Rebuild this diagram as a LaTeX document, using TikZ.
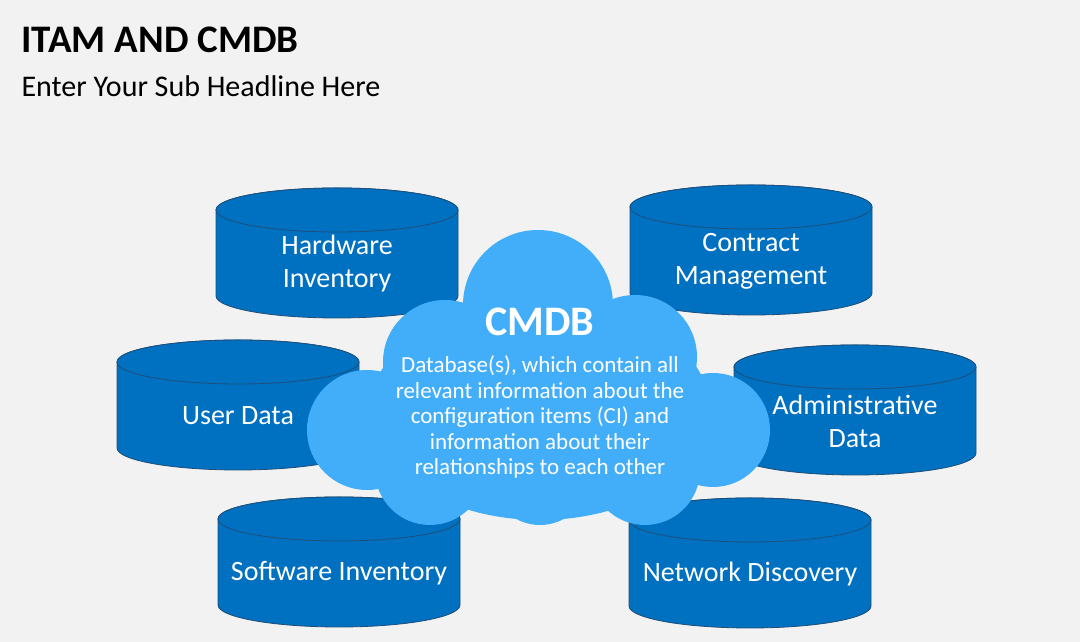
\documentclass[tikz,border=0pt]{standalone}
\usepackage{fontspec}
\setmainfont{Carlito}
\usepackage{tikz}

\definecolor{dbfill}{HTML}{0070C0}
\definecolor{dbline}{HTML}{1F4E79}
\definecolor{cloudblue}{HTML}{42AEF9}
\definecolor{bggray}{HTML}{F2F2F2}

\tikzset{
  dbbody/.style = {fill=dbfill, draw=dbline, line width=0.8pt},
  dblabel/.style = {text=white, font=\fontsize{28}{33}\selectfont, align=center},
  puff/.style = {fill=cloudblue, draw=none}
}

% cylinder: #1 name, #2 centre x of top, #3 centre y of top, #4 label
\newcommand{\dbcyl}[4]{
  \draw[dbbody] (#2-121,#3) -- (#2-121,#3-86) arc[start angle=180, end angle=360, x radius=121, y radius=22]
     -- (#2+121,#3) arc[start angle=0, end angle=180, x radius=121, y radius=22] -- cycle;
  \draw[dbbody] (#2,#3) ellipse[x radius=121, y radius=22];
  \node[dblabel] (#1) at (#2,#3-54) {#4};
}

\begin{document}
\begin{tikzpicture}[x=1pt, y=1pt]
		\fill[bggray] (0,0) rectangle (1080,642);
		\useasboundingbox (0,0) rectangle (1080,642);
		\node[anchor=west, font=\fontsize{39}{46}\selectfont\bfseries] (title) at (18,602) {ITAM AND CMDB};
		\node[anchor=west, font=\fontsize{30}{36}\selectfont] (subtitle) at (18,556) {Enter Your Sub Headline Here};
		% the six data stores
		\dbcyl{hw}{337}{432}{Hardware\\Inventory}
		\dbcyl{cm}{751}{435}{Contract\\Management}
		\dbcyl{ud}{238}{280}{User Data}
		\dbcyl{ad}{855}{275}{Administrative\\Data}
		\dbcyl{sw}{339}{123}{Software Inventory}
		\dbcyl{nd}{750}{122}{Network Discovery}
		% the cloud
		\fill[puff] (538,337) circle (75);
		\fill[puff] (445,280) circle (62);
		\fill[puff] (635,285) circle (62);
		\fill[puff] (367,212) circle (60);
		\fill[puff] (713,212) circle (57);
		\fill[puff] (430,172) circle (55);
		\fill[puff] (540,167) circle (50);
		\fill[puff] (645,172) circle (55);
		\fill[puff] (540,232) ellipse[x radius=170, y radius=110];
		\node[text=white, font=\fontsize{42}{48}\selectfont\bfseries] (cmdb) at (540,320) {CMDB};
		\node[text=white, font=\fontsize{23}{25.5}\selectfont, align=center] (desc) at (540,225)
		  {Database(s), which contain all\\relevant information about the\\configuration items (CI) and\\information about their\\relationships to each other};
		\end{tikzpicture}
\end{document}
